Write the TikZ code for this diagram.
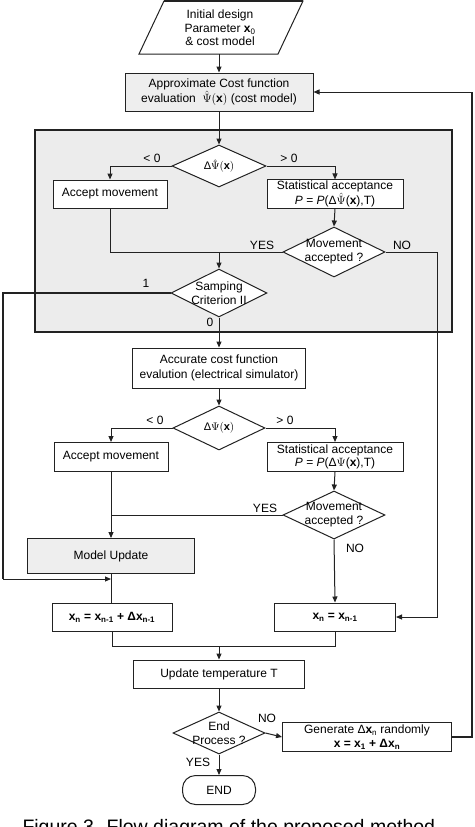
\documentclass[tikz,border=0pt]{standalone}
\usepackage{fontspec}
\setmainfont{Liberation Sans}
\usetikzlibrary{shapes.geometric,arrows.meta,calc}
\definecolor{panel}{HTML}{ECECEC}
\definecolor{boxgray}{HTML}{EEEEEE}
\definecolor{ink}{HTML}{222222}
\begin{document}
\begin{tikzpicture}[x=1pt,y=-1pt,
  font=\fontsize{12}{14.5}\selectfont,
  line width=1pt, draw=ink,
  pbox/.style={draw=ink, fill=white, rectangle, inner sep=1pt, align=center},
  gbox/.style={pbox, fill=boxgray},
  dia/.style={draw=ink, fill=white, diamond, inner sep=0pt},
  lbl/.style={inner sep=0pt, font=\fontsize{12}{14}\selectfont},
  arr/.style={-{Triangle[length=6pt,width=5pt]}},
  fb/.style={line width=1.6pt}]
\useasboundingbox (0,0) rectangle (474,827);
\fill[white] (0,0) rectangle (474,827);

% grey panel
\draw[fill=panel, line width=1.1pt] (35,130) rectangle (452,332);

% initial parallelogram
\draw[fill=white] (164,1) -- (303,1) -- (278,54) -- (139,54) -- cycle;
\draw[line width=2pt] (164,1) -- (303,1);
\node[align=center, font=\fontsize{12}{13.5}\selectfont] (init) at (220,28)
  {Initial design\\Parameter \textbf{x}\textsubscript{0}\\\& cost model};
\coordinate (initb) at (219,54);

\node[gbox, minimum width=188pt, minimum height=38pt] (approx) at (219,92)
  {Approximate Cost function\\evaluation \ $\hat{\Psi}(\mathbf{x})$ (cost model)};

\node[dia, minimum width=94pt, minimum height=42pt,
  label={[font=\fontsize{11}{13}\selectfont]center:Δ$\hat{\Psi}(\mathbf{x})$}] (d1) at (219,166) {};
\node[pbox, minimum width=114pt, minimum height=28pt] (acc1) at (110,194) {Accept movement};
\node[pbox, minimum width=136pt, minimum height=28pt, font=\fontsize{12}{13}\selectfont] (stat1) at (335,194)
  {Statistical acceptance\\\textit{P} = \textit{P}(Δ$\hat{\Psi}$(\textbf{x}),T)};
\node[dia, minimum width=102pt, minimum height=50pt,
  label={[align=center, font=\fontsize{12}{14}\selectfont]center:Movement\\accepted ?}] (ma1) at (334,252) {};
\node[dia, minimum width=96pt, minimum height=48pt,
  label={[align=center, font=\fontsize{12}{14}\selectfont]center:Samping\\Criterion II}] (samp) at (219,293) {};

\node[pbox, minimum width=173pt, minimum height=40pt] (accu) at (219,368)
  {Accurate cost function\\evalution (electrical simulator)};
\node[dia, minimum width=92pt, minimum height=44pt,
  label={[font=\fontsize{11}{13}\selectfont]center:Δ$\Psi(\mathbf{x})$}] (d2) at (219,428) {};
\node[pbox, minimum width=114pt, minimum height=29pt] (acc2) at (111,457) {Accept movement};
\node[pbox, minimum width=136pt, minimum height=29pt, font=\fontsize{12}{13}\selectfont] (stat2) at (335,457)
  {Statistical acceptance\\\textit{P} = \textit{P}(Δ$\Psi$(\textbf{x}),T)};
\node[dia, minimum width=102pt, minimum height=48pt,
  label={[align=center, font=\fontsize{12}{14}\selectfont]center:Movement\\accepted ?}] (ma2) at (334,515) {};
\node[gbox, minimum width=167pt, minimum height=35pt] (mu) at (111,556) {Model Update};
\node[pbox, minimum width=120pt, minimum height=28pt, font=\fontsize{12}{14}\selectfont\bfseries] (xn1) at (112,617)
  {x\textsubscript{n} = x\textsubscript{n-1} + Δx\textsubscript{n-1}};
\node[pbox, minimum width=121pt, minimum height=28pt, font=\fontsize{12}{14}\selectfont\bfseries] (xn2) at (335,617)
  {x\textsubscript{n} = x\textsubscript{n-1}};
\node[pbox, minimum width=171pt, minimum height=28pt] (upd) at (219,674) {Update temperature T};
\node[dia, minimum width=92pt, minimum height=42pt,
  label={[align=center, font=\fontsize{12}{14}\selectfont]center:End\\Process ?}] (endp) at (219,733) {};
\node[pbox, minimum width=169pt, minimum height=29pt, font=\fontsize{12}{13.5}\selectfont] (gen) at (367,737)
  {Generate Δ\textbf{x}\textsubscript{n} randomly\\\textbf{x = x\textsubscript{1} + Δx\textsubscript{n}}};
\node[draw=ink, fill=white, rounded corners=13pt, minimum width=73pt, minimum height=29pt] (end) at (219,790) {END};

% coordinates
\coordinate (nor) at (437,252);
\coordinate (lt) at (3,293);
\coordinate (lb) at (3,579);
\coordinate (mj) at (111,579);
\coordinate (jn) at (219,646);
\coordinate (rb) at (472,737);

% connectors
\draw[arr] (initb) -- (approx.north);
\draw[arr] (approx.south) -- (d1.north);
\draw[arr] (d1.west) -| (acc1.north);
\draw[arr] (d1.east) -| (stat1.north);
\draw[arr] (stat1.south) -- (ma1.north);
\draw (acc1.south) |- (ma1.west);
\draw[arr] (samp.north |- ma1.west) -- (samp.north);
\draw (ma1.east) -- (nor);
\draw[arr] (nor) |- (xn2.east);
\draw[fb] (samp.west) -- (lt) -- (lb);
\draw[arr] (lb) -- (mj);
\draw[arr] (samp.south) -- (accu.north);
\draw[arr] (accu.south) -- (d2.north);
\draw[arr] (d2.west) -| (acc2.north);
\draw[arr] (d2.east) -| (stat2.north);
\draw[arr] (stat2.south) -- (ma2.north);
\draw[arr] (acc2.south) -- (mu.north);
\draw (ma2.west) -- (acc2.south |- ma2.west);
\draw[arr] (ma2.south) -- (xn2.north);
\draw (mu.south) -- (mu.south |- xn1.north);
\draw (xn1.south) -- (xn1.south |- jn) -- (xn2.south |- jn) -- (xn2.south);
\draw[arr] (jn) -- (upd.north);
\draw[arr] (upd.south) -- (endp.north);
\draw[arr] (endp.east) -- (gen.west);
\draw[arr] (endp.south) -- (end.north);
\draw[fb] (gen.east) -- (rb) -- (rb |- approx.east);
\draw[arr] (rb |- approx.east) -- (approx.east);

% labels
\node[lbl] (l1) at (152,158) {< 0};
\node[lbl] (l2) at (289,158) {> 0};
\node[lbl] (l3) at (262,245) {YES};
\node[lbl] (l4) at (402,245) {NO};
\node[lbl] (l5) at (146,283) {1};
\node[lbl] (l6) at (210,322) {0};
\node[lbl] (l7) at (155,420) {< 0};
\node[lbl] (l8) at (285,420) {> 0};
\node[lbl] (l9) at (265,508) {YES};
\node[lbl] (l10) at (355,548) {NO};
\node[lbl] (l11) at (267,718) {NO};
\node[lbl] (l12) at (198,762) {YES};

% cut caption
\begin{scope}
\clip (0,0) rectangle (474,827);
\node[anchor=base west, inner sep=0pt, font=\fontsize{19.5}{22}\selectfont] (cap) at (22,833)
  {Figure 3. Flow diagram of the proposed method};
\end{scope}
\end{tikzpicture}
\end{document}
